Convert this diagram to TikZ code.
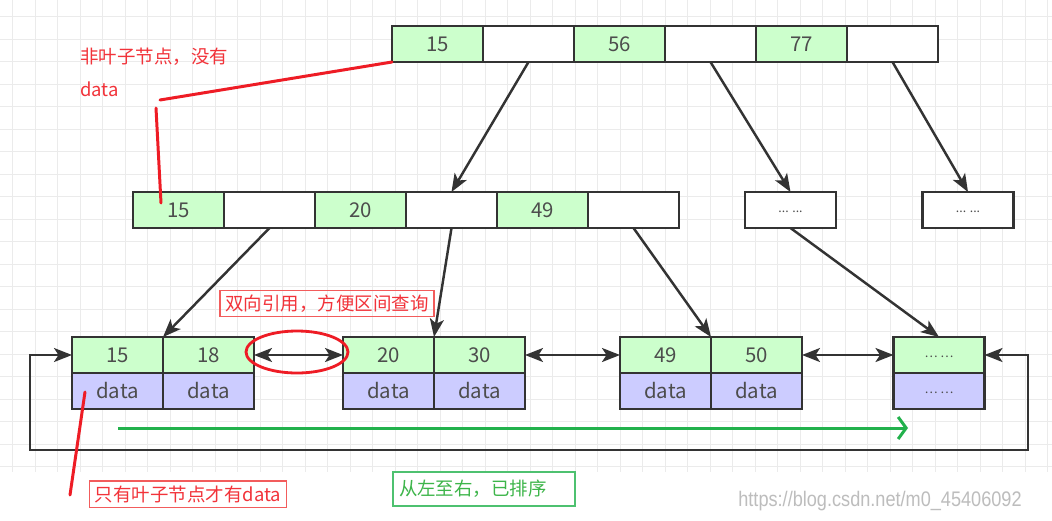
\documentclass[tikz,border=0pt]{standalone}
\usepackage{fontspec}
\setmainfont{Noto Sans CJK SC}
\newfontfamily\markfont[FakeStretch=0.86]{Liberation Sans}
\usetikzlibrary{arrows.meta,positioning,shapes.geometric}
\definecolor{btInk}{HTML}{333333}
\definecolor{btText}{HTML}{4D4D4D}
\definecolor{btKey}{HTML}{CCFFCC}
\definecolor{btData}{HTML}{CCCCFF}
\definecolor{btRed}{HTML}{EE1C25}
\definecolor{btRedBox}{HTML}{F25C5C}
\definecolor{btRedTxt}{HTML}{F2333A}
\definecolor{btGreen}{HTML}{22B14C}
\definecolor{btGreenTxt}{HTML}{3DB54A}
\definecolor{btGrid}{HTML}{EBEBEB}
\definecolor{btMark}{HTML}{BDBDBD}
\tikzset{
  cell/.style={rectangle,draw=btInk,line width=1.4pt,outer sep=0pt,
    minimum width=18.2mm,minimum height=7.2mm,inner sep=0pt,
    font=\fontsize{11.6}{13.6}\selectfont,text=btText},
  keycell/.style={cell,fill=btKey},
  blankcell/.style={cell,fill=white},
  datacell/.style={cell,fill=btData},
  dotbox/.style={cell,fill=white,font=\scriptsize},
  arr/.style={-{Stealth[length=3.6mm,width=2.8mm,inset=0.9mm]},
    line width=1.4pt,color=btInk},
  arrb/.style={{Stealth[length=3.6mm,width=2.8mm,inset=0.9mm]}-{Stealth[length=3.6mm,width=2.8mm,inset=0.9mm]},
    line width=1.4pt,color=btInk},
  sortarr/.style={-{Straight Barb[length=1.6mm,width=4.4mm]},
    line width=1.7pt,color=btGreen},
  redline/.style={line width=1.7pt,color=btRed,line cap=round},
  ring/.style={ellipse,draw=btRed,line width=1.6pt,inner sep=0pt,
    minimum width=20.4mm,minimum height=8.4mm},
  rednote/.style={font=\fontsize{10.5}{12.6}\selectfont,text=btRedTxt,inner sep=0pt},
  redbox/.style={rectangle,draw=btRedBox,line width=0.6pt,text=btRedTxt,
    inner xsep=1.1mm,inner ysep=0.9mm,font=\fontsize{10.5}{12.6}\selectfont},
  greenbox/.style={rectangle,draw=btGreen!80,line width=0.6pt,text=btGreenTxt,
    text width=34mm,align=left,inner xsep=1.2mm,minimum height=6.8mm,
    font=\fontsize{10.5}{12.6}\selectfont},
  gridline/.style={line width=0.5pt,color=btGrid},
  wmark/.style={font=\markfont\fontsize{12}{14}\selectfont,text=btMark,inner sep=0pt},
}
\begin{document}
\begin{tikzpicture}[x=0.2mm,y=-0.2mm]

  \fill[white] (0,0) rectangle (1052,520);
  \useasboundingbox (0,0) rectangle (1052,520);

  \foreach \gx in {0,...,46}
    \draw[gridline] (12.7+22.5*\gx,0) -- (12.7+22.5*\gx,472);
  \foreach \gy in {0,...,20}
    \draw[gridline] (0,16.7+22.5*\gy) -- (1052,16.7+22.5*\gy);

  % root
  \node[keycell] (r1) at (437.5,44) {15};
  \node[blankcell,right=0pt of r1] (r2) {};
  \node[keycell,right=0pt of r2] (r3) {56};
  \node[blankcell,right=0pt of r3] (r4) {};
  \node[keycell,right=0pt of r4] (r5) {77};
  \node[blankcell,right=0pt of r5] (r6) {};

  % inner level
  \node[keycell] (m1) at (178.5,210) {15};
  \node[blankcell,right=0pt of m1] (m2) {};
  \node[keycell,right=0pt of m2] (m3) {20};
  \node[blankcell,right=0pt of m3] (m4) {};
  \node[keycell,right=0pt of m4] (m5) {49};
  \node[blankcell,right=0pt of m5] (m6) {};
  \node[dotbox] (d1) at (790.5,210) {\strut... ...};
  \node[dotbox] (d2) at (968,210) {\strut... ...};

  % leaves
  \node[keycell] (l1a) at (117.5,355) {15};
  \node[keycell,right=0pt of l1a] (l1b) {18};
  \node[datacell,below=0pt of l1a] (l1c) {data};
  \node[datacell,below=0pt of l1b] (l1d) {data};

  \node[keycell] (l2a) at (388.5,355) {20};
  \node[keycell,right=0pt of l2a] (l2b) {30};
  \node[datacell,below=0pt of l2a] (l2c) {data};
  \node[datacell,below=0pt of l2b] (l2d) {data};

  \node[keycell] (l3a) at (665.5,355) {49};
  \node[keycell,right=0pt of l3a] (l3b) {50};
  \node[datacell,below=0pt of l3a] (l3c) {data};
  \node[datacell,below=0pt of l3b] (l3d) {data};

  \node[keycell,font=\scriptsize] (l4a) at (939,355) {\strut\ldots\ \ldots};
  \node[datacell,font=\scriptsize,below=0pt of l4a] (l4c) {\strut\ldots\ \ldots};

  \foreach \from/\to in {r2.south/m4.north,r4.south/d1.north,r6.south/d2.north,
      m2.south/l1a.north east,m4.south/l2a.north east,m6.south/l3a.north east,
      d1.south/l4a.north}
    \draw[arr] (\from) -- (\to);

  \foreach \from/\to in {l1b/l2a,l2b/l3a,l3b/l4a}
    \draw[arrb] (\from.east) -- (\to.west);

  \coordinate (loopl) at (30,450);
  \coordinate (loopr) at (1028,450);
  \draw[arrb] (l1a.west) -| (loopl) -- (loopr) |- (l4a.east);

  \coordinate (sortl) at (118,428);
  \coordinate (sortr) at (908,428);
  \draw[sortarr] (sortl) -- (sortr);

  % notes
  \node[ring] (ring) at (297,352) {};

  \node[rednote,anchor=north west,align=left] (note1) at (80,48)
    {非叶子节点，没有\\[2.2mm]data};
  \coordinate (n1a) at (160,100);
  \coordinate (n1b) at (156,108);
  \coordinate (n1c) at (161,203);
  \draw[redline] (r1.south west) -- (n1a);
  \draw[redline] (n1b) -- (n1c);

  \node[redbox] (note2) at (327,303.5) {双向引用，方便区间查询};

  \node[redbox] (note3) at (188,494) {只有叶子节点才有data};
  \coordinate (n2a) at (85,392);
  \coordinate (n2b) at (70,495);
  \draw[redline] (n2a) -- (n2b);

  \node[greenbox] (note4) at (484,489) {从左至右，已排序};

  \node[wmark,anchor=west] (wm) at (738,501) {https://blog.csdn.net/m0\_45406092};

\end{tikzpicture}
\end{document}
